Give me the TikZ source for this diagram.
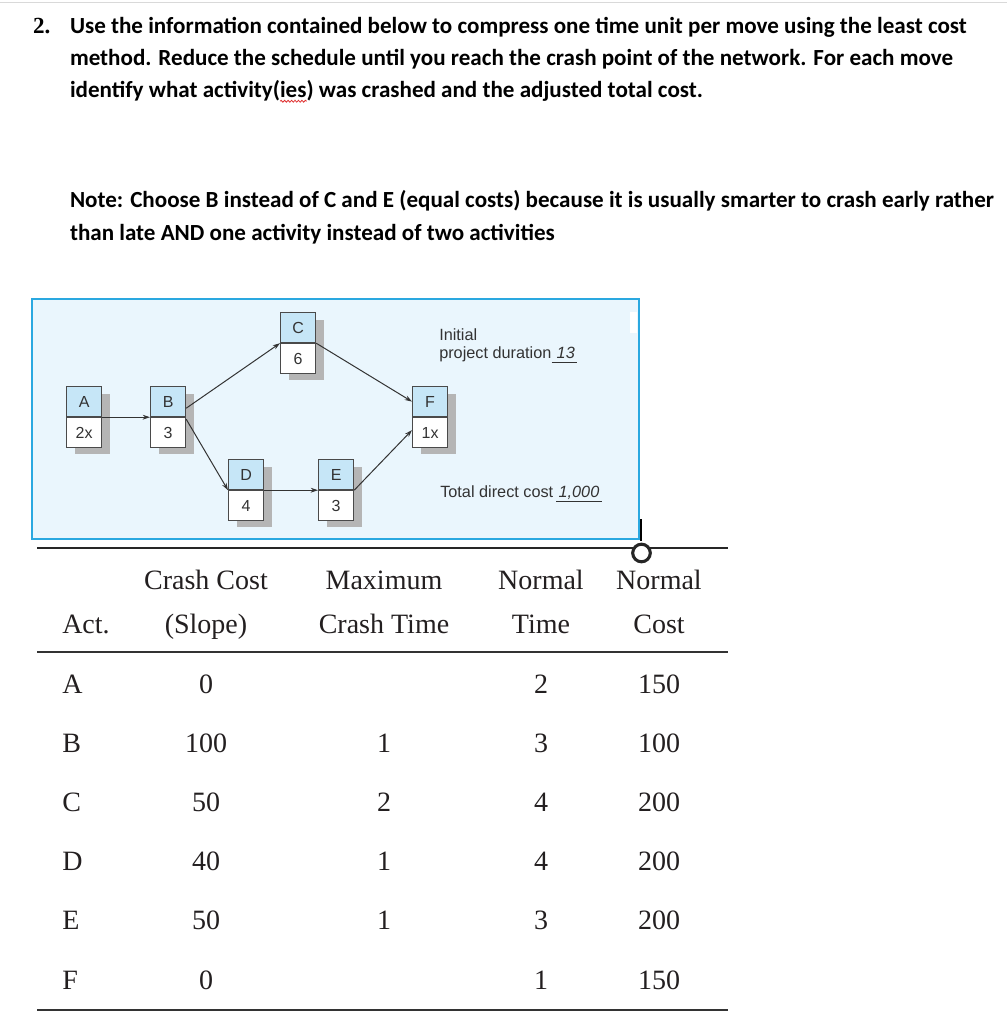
\documentclass[tikz,border=0pt]{standalone}
\usepackage{fontspec}
\setmainfont{Liberation Serif}
\newfontfamily\calfont{Carlito}
\newfontfamily\netfont{Liberation Sans}
\usetikzlibrary{arrows.meta,decorations.pathmorphing}
\definecolor{pagegray}{HTML}{D9D9D9}
\definecolor{netbg}{HTML}{EAF6FD}
\definecolor{netborder}{HTML}{2AA8E0}
\definecolor{boxblue}{HTML}{C6E6F7}
\definecolor{boxline}{HTML}{4A4A4A}
\definecolor{shadowgray}{HTML}{B5B5B5}
\definecolor{nettext}{HTML}{333333}
\definecolor{tabtext}{HTML}{231F20}
\definecolor{spellred}{HTML}{E03030}
\tikzset{
  qtext/.style={anchor=base west, inner sep=0pt, outer sep=0pt, font=\calfont\bfseries\fontsize{17.3}{20}\selectfont, text=black},
  acttop/.style={draw=boxline, line width=0.9pt, fill=boxblue, minimum width=26.25pt, minimum height=22.5pt, inner sep=0pt, font=\netfont\fontsize{12}{14}\selectfont, text=nettext},
  actbot/.style={acttop, fill=white},
  conn/.style={draw=nettext, line width=0.75pt, -{Stealth[length=5.5pt,width=3.6pt]}},
  nettxt/.style={anchor=base west, inner sep=0pt, font=\netfont\fontsize{12.2}{14}\selectfont, text=nettext},
  thead/.style={anchor=base, inner sep=0pt, font=\fontsize{21}{24}\selectfont, text=tabtext},
  tcell/.style={thead},
  tline/.style={draw=black!80, line width=1.5pt}
}
\newcommand\actbox[5]{%
  \fill[shadowgray] (#2+9,#3+8) rectangle (#2+44,#3+68);
  \node[acttop, anchor=north west] (#1) at (#2,#3) {#4};
  \node[actbot, anchor=north] (#1d) at (#1.south) {#5};
}
\begin{document}
\begin{tikzpicture}[x=0.75pt,y=-0.75pt]
\useasboundingbox (0,0) rectangle (1007,1024);
\fill[white] (0,0) rectangle (1007,1024);
\draw[pagegray, line width=1.1pt] (0,2.5) -- (1007,2.5);

% question text
\node[qtext, font=\bfseries\fontsize{17.3}{20}\selectfont] (qnum) at (33,33.5) {2.};
\node[qtext] (q1) at (70,33.5) {Use the information contained below to compress one time unit per move using the least cost};
\node[qtext] (q2) at (70,65.5) {method. Reduce the schedule until you reach the crash point of the network. For each move};
\node[qtext] (q3a) at (70,97.5) {identify what activity(};
\node[qtext] (q3b) at (q3a.base east) {ies};
\node[qtext] (q3c) at (q3b.base east) {) was crashed and the adjusted total cost.};
\draw[spellred, line width=0.6pt, decorate, decoration={snake, amplitude=0.7pt, segment length=2.6pt}]
  ([yshift=-2.8pt]q3b.base west) -- ([yshift=-2.8pt]q3b.base east);

\node[qtext] (n1) at (70,207.5) {Note: Choose B instead of C and E (equal costs) because it is usually smarter to crash early rather};
\node[qtext] (n2) at (70,240.5) {than late AND one activity instead of two activities};

% network panel
\draw[fill=netbg, draw=netborder, line width=1.5pt] (32,299) rectangle (639,539);
\fill[white] (630,312) rectangle (637,333);

\actbox{A}{66}{386}{A}{2x}
\actbox{B}{150}{386}{B}{3}
\actbox{C}{280}{312}{C}{6}
\actbox{D}{228}{459}{D}{4}
\actbox{E}{318}{459}{E}{3}
\actbox{F}{412}{386}{F}{1x}

\draw[conn] (A.south east) -- (B.south west);
\draw[conn] ([yshift=6.75pt]B.south east) -- (C.south west);
\draw[conn] ([yshift=-1.5pt]Bd.north east) -- (D.south west);
\draw[conn] (D.south east) -- (E.south west);
\draw[conn] (C.south east) -- (F.west);
\draw[conn] (E.south east) -- ([yshift=2pt]Fd.west);

\node[nettxt] (init) at (439,340) {Initial};
\node[nettxt] (pdur) at (439,358) {project duration};
\node[nettxt] (pd13) at ([xshift=3.6pt]pdur.base east) {\textit{13}};
\draw[nettext, line width=0.7pt] ([xshift=-3.6pt,yshift=-3.3pt]pd13.base west) -- ([xshift=1.5pt,yshift=-3.3pt]pd13.base east);
\node[nettxt] (tdc) at (440,497) {Total direct cost};
\node[nettxt] (tdc1) at ([xshift=3.6pt]tdc.base east) {\textit{1,000}};
\draw[nettext, line width=0.7pt] ([xshift=-1.5pt,yshift=-3.3pt]tdc1.base west) -- ([xshift=2pt,yshift=-3.3pt]tdc1.base east);

% table rules and marker
\draw[black, line width=1.1pt] (641,519) -- (641,541);
\draw[black!85, line width=1.1pt] (37,548) -- (728,548);
\draw[black!85, line width=2.3pt, fill=white] (641.5,553) circle[radius=6.6pt];
\draw[tline] (37,652) -- (728,652);
\draw[tline] (37,1010) -- (728,1010);

% headers
\node[thead] (h2a) at (206,589) {Crash Cost};
\node[thead] (h3a) at (384,589) {Maximum};
\node[thead] (h4a) at (541,589) {Normal};
\node[thead] (h5a) at (659,589) {Normal};
\node[thead, anchor=base west] (h1b) at (62,633) {Act.};
\node[thead] (h2b) at (206,633) {(Slope)};
\node[thead] (h3b) at (384,633) {Crash Time};
\node[thead] (h4b) at (541,633) {Time};
\node[thead] (h5b) at (659,633) {Cost};

% rows
\node[tcell, anchor=base west] (rA) at (62,693) {A};
\node[tcell] (sA) at (206,693) {0};
\node[tcell] (tA) at (541,693) {2};
\node[tcell] (cA) at (659,693) {150};

\node[tcell, anchor=base west] (rB) at (62,752) {B};
\node[tcell] (sB) at (206,752) {100};
\node[tcell] (mB) at (384,752) {1};
\node[tcell] (tB) at (541,752) {3};
\node[tcell] (cB) at (659,752) {100};

\node[tcell, anchor=base west] (rC) at (62,811) {C};
\node[tcell] (sC) at (206,811) {50};
\node[tcell] (mC) at (384,811) {2};
\node[tcell] (tC) at (541,811) {4};
\node[tcell] (cC) at (659,811) {200};

\node[tcell, anchor=base west] (rD) at (62,870) {D};
\node[tcell] (sD) at (206,870) {40};
\node[tcell] (mD) at (384,870) {1};
\node[tcell] (tD) at (541,870) {4};
\node[tcell] (cD) at (659,870) {200};

\node[tcell, anchor=base west] (rE) at (62,929) {E};
\node[tcell] (sE) at (206,929) {50};
\node[tcell] (mE) at (384,929) {1};
\node[tcell] (tE) at (541,929) {3};
\node[tcell] (cE) at (659,929) {200};

\node[tcell, anchor=base west] (rF) at (62,989) {F};
\node[tcell] (sF) at (206,989) {0};
\node[tcell] (tF) at (541,989) {1};
\node[tcell] (cF) at (659,989) {150};
\end{tikzpicture}
\end{document}
